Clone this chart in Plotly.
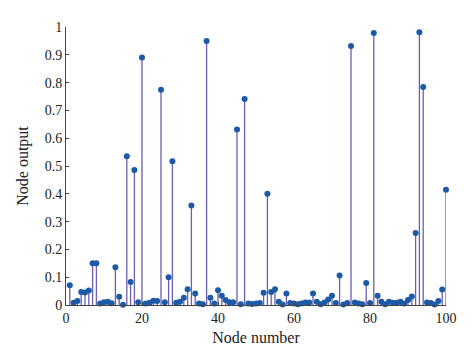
import plotly.graph_objects as go

nodes = list(range(1, 101))
outputs = [
    0.071, 0.008, 0.014, 0.047, 0.045, 0.052, 0.150, 0.150, 0.005, 0.010,
    0.012, 0.006, 0.136, 0.030, 0.001, 0.535, 0.083, 0.486, 0.010, 0.890,
    0.005, 0.008, 0.015, 0.014, 0.774, 0.010, 0.100, 0.517, 0.008, 0.012,
    0.026, 0.057, 0.358, 0.041, 0.005, 0.003, 0.950, 0.026, 0.005, 0.053,
    0.033, 0.018, 0.010, 0.010, 0.631, 0.003, 0.741, 0.005, 0.004, 0.005,
    0.007, 0.044, 0.400, 0.047, 0.057, 0.012, 0.002, 0.041, 0.007, 0.005,
    0.003, 0.005, 0.009, 0.009, 0.041, 0.012, 0.003, 0.009, 0.020, 0.033,
    0.007, 0.106, 0.002, 0.007, 0.932, 0.009, 0.005, 0.003, 0.079, 0.007,
    0.978, 0.033, 0.012, 0.003, 0.012, 0.008, 0.008, 0.012, 0.005, 0.018,
    0.031, 0.259, 0.981, 0.784, 0.009, 0.007, 0.002, 0.014, 0.056, 0.415,
]
x_ticks = [0, 20, 40, 60, 80, 100]
y_ticks = [0, 0.1, 0.2, 0.3, 0.4, 0.5, 0.6, 0.7, 0.8, 0.9, 1]
y_tick_text = ["0", "0.1", "0.2", "0.3", "0.4", "0.5", "0.6", "0.7", "0.8", "0.9", "1"]

stem_color = "#6a5fb0"
dot_color = "#1c5aa8"
font_family = "Liberation Serif"

fig = go.Figure()
fig.add_trace(go.Scatter(
    x=nodes, y=outputs, mode="markers",
    marker=dict(color=dot_color, size=6),
    error_y=dict(type="data", symmetric=False,
                 array=[0] * len(outputs), arrayminus=outputs,
                 color=stem_color, thickness=1.3, width=0),
    showlegend=False, cliponaxis=False,
))

axis_common = dict(
    showline=True, linecolor="#444", linewidth=1, mirror=False,
    ticks="inside", ticklen=3, tickcolor="#444", showgrid=False, zeroline=False,
    tickfont=dict(family=font_family, size=14, color="#222"),
)
fig.update_layout(
    width=474, height=361,
    margin=dict(l=58, r=36, t=15, b=64),
    paper_bgcolor="white", plot_bgcolor="white",
    font=dict(family=font_family, color="#222"),
    xaxis=dict(range=[0, 100], tickvals=x_ticks,
               title=dict(text="Node number", font=dict(family=font_family, size=16), standoff=7),
               **axis_common),
    yaxis=dict(range=[0, 1], tickvals=y_ticks, ticktext=y_tick_text,
               title=dict(text="Node output", font=dict(family=font_family, size=16), standoff=12),
               **axis_common),
)
fig.write_html("out.html")
